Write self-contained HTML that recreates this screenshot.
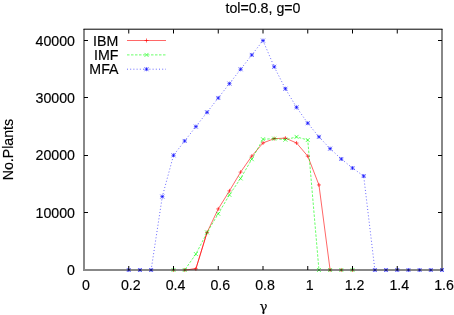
<!DOCTYPE html>
<html><head><meta charset="utf-8"><style>
html,body{margin:0;padding:0;background:#fff;}
body{width:454px;height:315px;overflow:hidden;}
svg{display:block;}
text{font-family:"Liberation Sans",Arial,sans-serif;font-size:14.2px;fill:#000;stroke:#000;stroke-width:0.15px;}
</style></head><body>
<svg width="454" height="315" viewBox="0 0 454 315">
<rect width="454" height="315" fill="#fff"/>

<text x="263" y="13" text-anchor="middle">tol=0.8, g=0</text>
<text transform="translate(12.6,149.6) rotate(-90)" text-anchor="middle">No.Plants</text>
<text x="263.4" y="311.3" text-anchor="middle" style="font-family:'DejaVu Serif',serif;font-size:13.4px">γ</text>
<text x="75" y="275.00" text-anchor="end">0</text>
<text x="75" y="217.65" text-anchor="end">10000</text>
<text x="75" y="160.30" text-anchor="end">20000</text>
<text x="75" y="102.95" text-anchor="end">30000</text>
<text x="75" y="45.60" text-anchor="end">40000</text>
<text x="86.00" y="289.5" text-anchor="middle">0</text>
<text x="130.75" y="289.5" text-anchor="middle">0.2</text>
<text x="175.50" y="289.5" text-anchor="middle">0.4</text>
<text x="220.25" y="289.5" text-anchor="middle">0.6</text>
<text x="265.00" y="289.5" text-anchor="middle">0.8</text>
<text x="309.75" y="289.5" text-anchor="middle">1</text>
<text x="354.50" y="289.5" text-anchor="middle">1.2</text>
<text x="399.25" y="289.5" text-anchor="middle">1.4</text>
<text x="444.00" y="289.5" text-anchor="middle">1.6</text>
<g fill="none" stroke-width="0.6">
<polyline points="173.50,270.00 184.69,270.00 195.88,268.85 207.06,232.44 218.25,208.92 229.44,190.86 240.62,172.10 251.81,156.10 263.00,142.97 274.19,138.67 285.38,138.15 296.56,142.97 307.75,156.16 318.94,184.95 330.12,270.00 341.31,270.00 352.50,270.00" stroke="#ff0000"/>
<polyline points="173.50,270.00 184.69,270.00 195.88,254.06 207.06,232.44 218.25,213.80 229.44,194.87 240.62,178.41 251.81,159.20 263.00,139.24 274.19,138.67 285.38,139.70 296.56,136.89 307.75,140.04 318.94,270.00 330.12,270.00 341.31,270.00 352.50,270.00" stroke="#00ff00" stroke-dasharray="2.5 1.5"/>
<polyline points="128.75,270.00 139.94,270.00 151.12,270.00 162.31,196.59 173.50,155.30 184.69,140.96 195.88,126.62 207.06,112.29 218.25,97.95 229.44,83.61 240.62,69.28 251.81,54.94 263.00,40.60 274.19,66.79 285.38,88.75 296.56,107.32 307.75,123.18 318.94,136.83 330.12,148.66 341.31,158.99 352.50,168.04 363.69,176.04 374.88,270.00 386.06,270.00 397.25,270.00 408.44,270.00 419.62,270.00 430.81,270.00 442.00,270.00" stroke="#0000ff" stroke-dasharray="1 2.2"/>
</g>
<text x="118.3" y="45.8" text-anchor="end">IBM</text>
<text x="118.5" y="59.8" text-anchor="end">IMF</text>
<text x="118.5" y="74" text-anchor="end">MFA</text>
<g fill="none" stroke-width="0.6">
<path d="M127 40.5H166" stroke="#ff0000"/><path d="M144.50 40.50H148.50M146.50 38.50V42.50" stroke="#ff0000"/>
<path d="M127 54.9H166" stroke="#00ff00" stroke-dasharray="2.5 1.5"/><path d="M144.50 52.90L148.50 56.90M144.50 56.90L148.50 52.90" stroke="#00ff00"/>
<path d="M127 69.2H166" stroke="#0000ff" stroke-dasharray="1 2.2"/><path d="M144.50 69.20H148.50M146.50 67.20V71.20" stroke="#0000ff"/><path d="M144.50 67.20L148.50 71.20M144.50 71.20L148.50 67.20" stroke="#0000ff"/>
</g>
<path d="M84.0 29V271.0M83.0 270.0H443.0M442.0 270.0V29" fill="none" stroke="#888888" stroke-width="2"/>
<path d="M83.5 29.2H442.5" fill="none" stroke="#000" stroke-width="1"/>
<path d="M84.0 212.5h4M442.0 212.5h-4M84.0 155.5h4M442.0 155.5h-4M84.0 97.5h4M442.0 97.5h-4M84.0 40.5h4M442.0 40.5h-4M128.75 270.0v-4M128.75 29.5v4M173.5 270.0v-4M173.5 29.5v4M218.25000000000003 270.0v-4M218.25000000000003 29.5v4M263.0 270.0v-4M263.0 29.5v4M307.75 270.0v-4M307.75 29.5v4M352.50000000000006 270.0v-4M352.50000000000006 29.5v4M397.25 270.0v-4M397.25 29.5v4" fill="none" stroke="#000" stroke-width="1"/>
<g fill="none" stroke-width="0.6" style="mix-blend-mode:multiply">
<polyline points="184.69,270.00 195.88,268.85 207.06,232.44" stroke="#ff0000"/>
<path d="M171.50 270.00H175.50M173.50 268.00V272.00" stroke="#ff0000"/>
<path d="M182.69 270.00H186.69M184.69 268.00V272.00" stroke="#ff0000"/>
<path d="M193.88 268.85H197.88M195.88 266.85V270.85" stroke="#ff0000"/>
<path d="M205.06 232.44H209.06M207.06 230.44V234.44" stroke="#ff0000"/>
<path d="M216.25 208.92H220.25M218.25 206.92V210.92" stroke="#ff0000"/>
<path d="M227.44 190.86H231.44M229.44 188.86V192.86" stroke="#ff0000"/>
<path d="M238.62 172.10H242.62M240.62 170.10V174.10" stroke="#ff0000"/>
<path d="M249.81 156.10H253.81M251.81 154.10V158.10" stroke="#ff0000"/>
<path d="M261.00 142.97H265.00M263.00 140.97V144.97" stroke="#ff0000"/>
<path d="M272.19 138.67H276.19M274.19 136.67V140.67" stroke="#ff0000"/>
<path d="M283.38 138.15H287.38M285.38 136.15V140.15" stroke="#ff0000"/>
<path d="M294.56 142.97H298.56M296.56 140.97V144.97" stroke="#ff0000"/>
<path d="M305.75 156.16H309.75M307.75 154.16V158.16" stroke="#ff0000"/>
<path d="M316.94 184.95H320.94M318.94 182.95V186.95" stroke="#ff0000"/>
<path d="M328.12 270.00H332.12M330.12 268.00V272.00" stroke="#ff0000"/>
<path d="M339.31 270.00H343.31M341.31 268.00V272.00" stroke="#ff0000"/>
<path d="M350.50 270.00H354.50M352.50 268.00V272.00" stroke="#ff0000"/>
<path d="M171.50 268.00L175.50 272.00M171.50 272.00L175.50 268.00" stroke="#00ff00"/>
<path d="M182.69 268.00L186.69 272.00M182.69 272.00L186.69 268.00" stroke="#00ff00"/>
<path d="M193.88 252.06L197.88 256.06M193.88 256.06L197.88 252.06" stroke="#00ff00"/>
<path d="M205.06 230.44L209.06 234.44M205.06 234.44L209.06 230.44" stroke="#00ff00"/>
<path d="M216.25 211.80L220.25 215.80M216.25 215.80L220.25 211.80" stroke="#00ff00"/>
<path d="M227.44 192.87L231.44 196.87M227.44 196.87L231.44 192.87" stroke="#00ff00"/>
<path d="M238.62 176.41L242.62 180.41M238.62 180.41L242.62 176.41" stroke="#00ff00"/>
<path d="M249.81 157.20L253.81 161.20M249.81 161.20L253.81 157.20" stroke="#00ff00"/>
<path d="M261.00 137.24L265.00 141.24M261.00 141.24L265.00 137.24" stroke="#00ff00"/>
<path d="M272.19 136.67L276.19 140.67M272.19 140.67L276.19 136.67" stroke="#00ff00"/>
<path d="M283.38 137.70L287.38 141.70M283.38 141.70L287.38 137.70" stroke="#00ff00"/>
<path d="M294.56 134.89L298.56 138.89M294.56 138.89L298.56 134.89" stroke="#00ff00"/>
<path d="M305.75 138.04L309.75 142.04M305.75 142.04L309.75 138.04" stroke="#00ff00"/>
<path d="M316.94 268.00L320.94 272.00M316.94 272.00L320.94 268.00" stroke="#00ff00"/>
<path d="M328.12 268.00L332.12 272.00M328.12 272.00L332.12 268.00" stroke="#00ff00"/>
<path d="M339.31 268.00L343.31 272.00M339.31 272.00L343.31 268.00" stroke="#00ff00"/>
<path d="M350.50 268.00L354.50 272.00M350.50 272.00L354.50 268.00" stroke="#00ff00"/>
<path d="M126.75 270.00H130.75M128.75 268.00V272.00" stroke="#0000ff"/><path d="M126.75 268.00L130.75 272.00M126.75 272.00L130.75 268.00" stroke="#0000ff"/>
<path d="M137.94 270.00H141.94M139.94 268.00V272.00" stroke="#0000ff"/><path d="M137.94 268.00L141.94 272.00M137.94 272.00L141.94 268.00" stroke="#0000ff"/>
<path d="M149.12 270.00H153.12M151.12 268.00V272.00" stroke="#0000ff"/><path d="M149.12 268.00L153.12 272.00M149.12 272.00L153.12 268.00" stroke="#0000ff"/>
<path d="M160.31 196.59H164.31M162.31 194.59V198.59" stroke="#0000ff"/><path d="M160.31 194.59L164.31 198.59M160.31 198.59L164.31 194.59" stroke="#0000ff"/>
<path d="M171.50 155.30H175.50M173.50 153.30V157.30" stroke="#0000ff"/><path d="M171.50 153.30L175.50 157.30M171.50 157.30L175.50 153.30" stroke="#0000ff"/>
<path d="M182.69 140.96H186.69M184.69 138.96V142.96" stroke="#0000ff"/><path d="M182.69 138.96L186.69 142.96M182.69 142.96L186.69 138.96" stroke="#0000ff"/>
<path d="M193.88 126.62H197.88M195.88 124.62V128.62" stroke="#0000ff"/><path d="M193.88 124.62L197.88 128.62M193.88 128.62L197.88 124.62" stroke="#0000ff"/>
<path d="M205.06 112.29H209.06M207.06 110.29V114.29" stroke="#0000ff"/><path d="M205.06 110.29L209.06 114.29M205.06 114.29L209.06 110.29" stroke="#0000ff"/>
<path d="M216.25 97.95H220.25M218.25 95.95V99.95" stroke="#0000ff"/><path d="M216.25 95.95L220.25 99.95M216.25 99.95L220.25 95.95" stroke="#0000ff"/>
<path d="M227.44 83.61H231.44M229.44 81.61V85.61" stroke="#0000ff"/><path d="M227.44 81.61L231.44 85.61M227.44 85.61L231.44 81.61" stroke="#0000ff"/>
<path d="M238.62 69.28H242.62M240.62 67.28V71.28" stroke="#0000ff"/><path d="M238.62 67.28L242.62 71.28M238.62 71.28L242.62 67.28" stroke="#0000ff"/>
<path d="M249.81 54.94H253.81M251.81 52.94V56.94" stroke="#0000ff"/><path d="M249.81 52.94L253.81 56.94M249.81 56.94L253.81 52.94" stroke="#0000ff"/>
<path d="M261.00 40.60H265.00M263.00 38.60V42.60" stroke="#0000ff"/><path d="M261.00 38.60L265.00 42.60M261.00 42.60L265.00 38.60" stroke="#0000ff"/>
<path d="M272.19 66.79H276.19M274.19 64.79V68.79" stroke="#0000ff"/><path d="M272.19 64.79L276.19 68.79M272.19 68.79L276.19 64.79" stroke="#0000ff"/>
<path d="M283.38 88.75H287.38M285.38 86.75V90.75" stroke="#0000ff"/><path d="M283.38 86.75L287.38 90.75M283.38 90.75L287.38 86.75" stroke="#0000ff"/>
<path d="M294.56 107.32H298.56M296.56 105.32V109.32" stroke="#0000ff"/><path d="M294.56 105.32L298.56 109.32M294.56 109.32L298.56 105.32" stroke="#0000ff"/>
<path d="M305.75 123.18H309.75M307.75 121.18V125.18" stroke="#0000ff"/><path d="M305.75 121.18L309.75 125.18M305.75 125.18L309.75 121.18" stroke="#0000ff"/>
<path d="M316.94 136.83H320.94M318.94 134.83V138.83" stroke="#0000ff"/><path d="M316.94 134.83L320.94 138.83M316.94 138.83L320.94 134.83" stroke="#0000ff"/>
<path d="M328.12 148.66H332.12M330.12 146.66V150.66" stroke="#0000ff"/><path d="M328.12 146.66L332.12 150.66M328.12 150.66L332.12 146.66" stroke="#0000ff"/>
<path d="M339.31 158.99H343.31M341.31 156.99V160.99" stroke="#0000ff"/><path d="M339.31 156.99L343.31 160.99M339.31 160.99L343.31 156.99" stroke="#0000ff"/>
<path d="M350.50 168.04H354.50M352.50 166.04V170.04" stroke="#0000ff"/><path d="M350.50 166.04L354.50 170.04M350.50 170.04L354.50 166.04" stroke="#0000ff"/>
<path d="M361.69 176.04H365.69M363.69 174.04V178.04" stroke="#0000ff"/><path d="M361.69 174.04L365.69 178.04M361.69 178.04L365.69 174.04" stroke="#0000ff"/>
<path d="M372.88 270.00H376.88M374.88 268.00V272.00" stroke="#0000ff"/><path d="M372.88 268.00L376.88 272.00M372.88 272.00L376.88 268.00" stroke="#0000ff"/>
<path d="M384.06 270.00H388.06M386.06 268.00V272.00" stroke="#0000ff"/><path d="M384.06 268.00L388.06 272.00M384.06 272.00L388.06 268.00" stroke="#0000ff"/>
<path d="M395.25 270.00H399.25M397.25 268.00V272.00" stroke="#0000ff"/><path d="M395.25 268.00L399.25 272.00M395.25 272.00L399.25 268.00" stroke="#0000ff"/>
<path d="M406.44 270.00H410.44M408.44 268.00V272.00" stroke="#0000ff"/><path d="M406.44 268.00L410.44 272.00M406.44 272.00L410.44 268.00" stroke="#0000ff"/>
<path d="M417.62 270.00H421.62M419.62 268.00V272.00" stroke="#0000ff"/><path d="M417.62 268.00L421.62 272.00M417.62 272.00L421.62 268.00" stroke="#0000ff"/>
<path d="M428.81 270.00H432.81M430.81 268.00V272.00" stroke="#0000ff"/><path d="M428.81 268.00L432.81 272.00M428.81 272.00L432.81 268.00" stroke="#0000ff"/>
<path d="M440.00 270.00H444.00M442.00 268.00V272.00" stroke="#0000ff"/><path d="M440.00 268.00L444.00 272.00M440.00 272.00L444.00 268.00" stroke="#0000ff"/>
</g>
</svg>
</body></html>
